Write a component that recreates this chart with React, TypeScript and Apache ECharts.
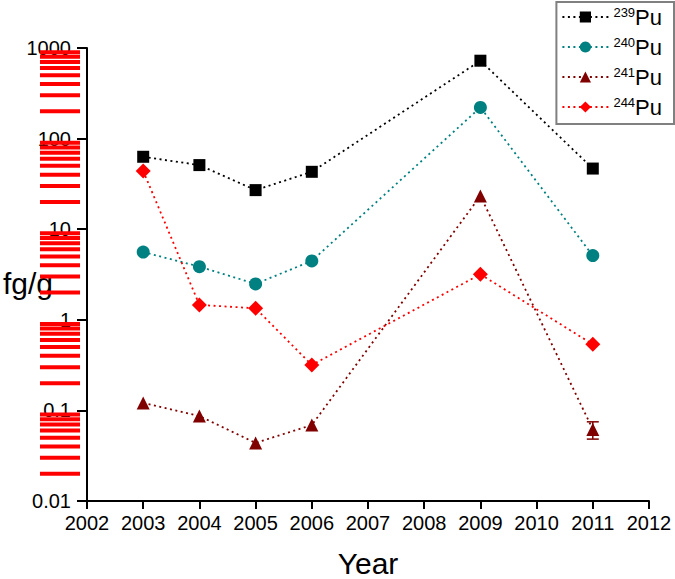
import React, { useEffect, useRef } from "react";
import * as echarts from "echarts";

const years = [2003, 2004, 2005, 2006, 2009, 2011];
const pu239 = [63, 51, 27, 43, 724, 46.7];
const pu240 = [5.6, 3.86, 2.49, 4.47, 221, 5.11];
const pu241 = [0.121, 0.0865, 0.0438, 0.0689, 23.3, 0.0617];
const pu244 = [44, 1.46, 1.34, 0.317, 3.18, 0.536];
const err241 = [[2011, 0.0482, 0.0748]];
const seriesNames = ["239Pu", "240Pu", "241Pu", "244Pu"];
const minorTickValues = [
  0.02, 0.03, 0.04, 0.05, 0.06, 0.07, 0.08, 0.09,
  0.2, 0.3, 0.4, 0.5, 0.6, 0.7, 0.8, 0.9,
  2, 3, 4, 5, 6, 7, 8, 9,
  20, 30, 40, 50, 60, 70, 80, 90,
  200, 300, 400, 500, 600, 700, 800, 900,
];

const FONT = "'Liberation Sans', Arial, sans-serif";

export default function App() {
  const ref = useRef<HTMLDivElement>(null);
  useEffect(() => {
    if (!ref.current) return;
    const chart = echarts.init(ref.current, null, { renderer: "svg" });
    const pair = (vals: number[]) => years.map((y, i) => [y, vals[i]]);
    const dotted = (color: string) => ({ color, width: 1.8, type: [2, 3.5] as any });
    const mk = (name: string, vals: number[], color: string, symbol: string, size: number) => ({
      name,
      type: "line",
      data: pair(vals),
      symbol,
      symbolSize: size,
      lineStyle: dotted(color),
      itemStyle: { color },
      z: 3,
    });
    chart.setOption({
      animation: false,
      textStyle: { fontFamily: FONT },
      grid: [
        { left: 87, right: 26, top: 48, bottom: 78, outerBoundsMode: "none", containLabel: false },
        { left: 40, width: 40, top: 48, bottom: 78, outerBoundsMode: "none", containLabel: false },
      ],
      legend: {
        data: seriesNames,
        orient: "vertical",
        right: 1,
        top: 2,
        padding: [4, 12, 6, 5],
        itemWidth: 46,
        itemHeight: 14,
        itemGap: 8,
        borderColor: "#808080",
        borderWidth: 2,
        formatter: (n: string) => `{s|${n.slice(0, 3)}}{p|${n.slice(3)}}`,
        textStyle: {
          fontFamily: FONT,
          color: "#000",
          rich: {
            s: { fontSize: 13, lineHeight: 14, verticalAlign: "top", fontFamily: FONT, color: "#000" },
            p: { fontSize: 22, lineHeight: 22, verticalAlign: "bottom", fontFamily: FONT, color: "#000" },
          },
        },
      },
      xAxis: [
        {
          type: "value",
          gridIndex: 0,
          min: 2002,
          max: 2012,
          interval: 1,
          name: "Year",
          nameLocation: "middle",
          nameGap: 47,
          nameTextStyle: { fontSize: 30, color: "#000", fontFamily: FONT },
          axisLine: { lineStyle: { color: "#000", width: 2 } },
          axisTick: { inside: false, length: 8, lineStyle: { color: "#000", width: 2 } },
          axisLabel: { fontSize: 20, color: "#000", margin: 12, fontFamily: FONT, formatter: (v: number) => String(v) },
          splitLine: { show: false },
        },
        { type: "value", gridIndex: 1, min: 0, max: 1, show: false },
      ],
      yAxis: [
        {
          type: "log",
          gridIndex: 0,
          logBase: 10,
          min: 0.01,
          max: 1000,
          axisLine: { show: true, lineStyle: { color: "#000", width: 2 } },
          axisTick: { show: true, inside: false, length: 10, lineStyle: { color: "#000", width: 2 } },
          axisLabel: { fontSize: 20, color: "#000", margin: 16, fontFamily: FONT, formatter: (v: number) => String(v) },
          splitLine: { show: false },
        },
        { type: "log", gridIndex: 1, logBase: 10, min: 0.01, max: 1000, show: false },
      ],
      graphic: [
        {
          type: "text",
          x: 3,
          y: 283,
          style: { text: "fg/g", fontSize: 30, fill: "#000", fontFamily: FONT, verticalAlign: "middle", align: "left" },
        },
      ],
      series: [
        {
          name: "minorTicks",
          type: "custom",
          xAxisIndex: 1,
          yAxisIndex: 1,
          clip: false,
          silent: true,
          data: minorTickValues.map((v) => [0, v, 1]),
          renderItem: (params: any, api: any) => {
            const a = api.coord([api.value(0), api.value(1)]);
            const b = api.coord([api.value(2), api.value(1)]);
            return {
              type: "group",
              children: [
                {
                  type: "rect",
                  shape: { x: a[0], y: a[1] - 2, width: b[0] - a[0], height: 4 },
                  style: { fill: "#ff0000" },
                },
              ],
            };
          },
          z: 2,
        },
        {
          name: "err241",
          type: "custom",
          clip: false,
          silent: true,
          data: err241,
          renderItem: (params: any, api: any) => {
            const lo = api.coord([api.value(0), api.value(1)]);
            const hi = api.coord([api.value(0), api.value(2)]);
            const st = { stroke: "#800000", lineWidth: 1.5 };
            return {
              type: "group",
              children: [
                { type: "line", shape: { x1: lo[0], y1: lo[1], x2: hi[0], y2: hi[1] }, style: st },
                { type: "line", shape: { x1: lo[0] - 6, y1: lo[1], x2: lo[0] + 6, y2: lo[1] }, style: st },
                { type: "line", shape: { x1: hi[0] - 6, y1: hi[1], x2: hi[0] + 6, y2: hi[1] }, style: st },
              ],
            };
          },
          z: 2,
        },
        mk(seriesNames[0], pu239, "#000000", "rect", 12),
        mk(seriesNames[1], pu240, "#008080", "circle", 13),
        mk(seriesNames[2], pu241, "#800000", "triangle", 13),
        mk(seriesNames[3], pu244, "#ff0000", "diamond", 15),
      ],
    });
    return () => chart.dispose();
  }, []);
  return <div ref={ref} style={{ width: 675, height: 579, position: "absolute", left: 0, top: 0 }} />;
}
